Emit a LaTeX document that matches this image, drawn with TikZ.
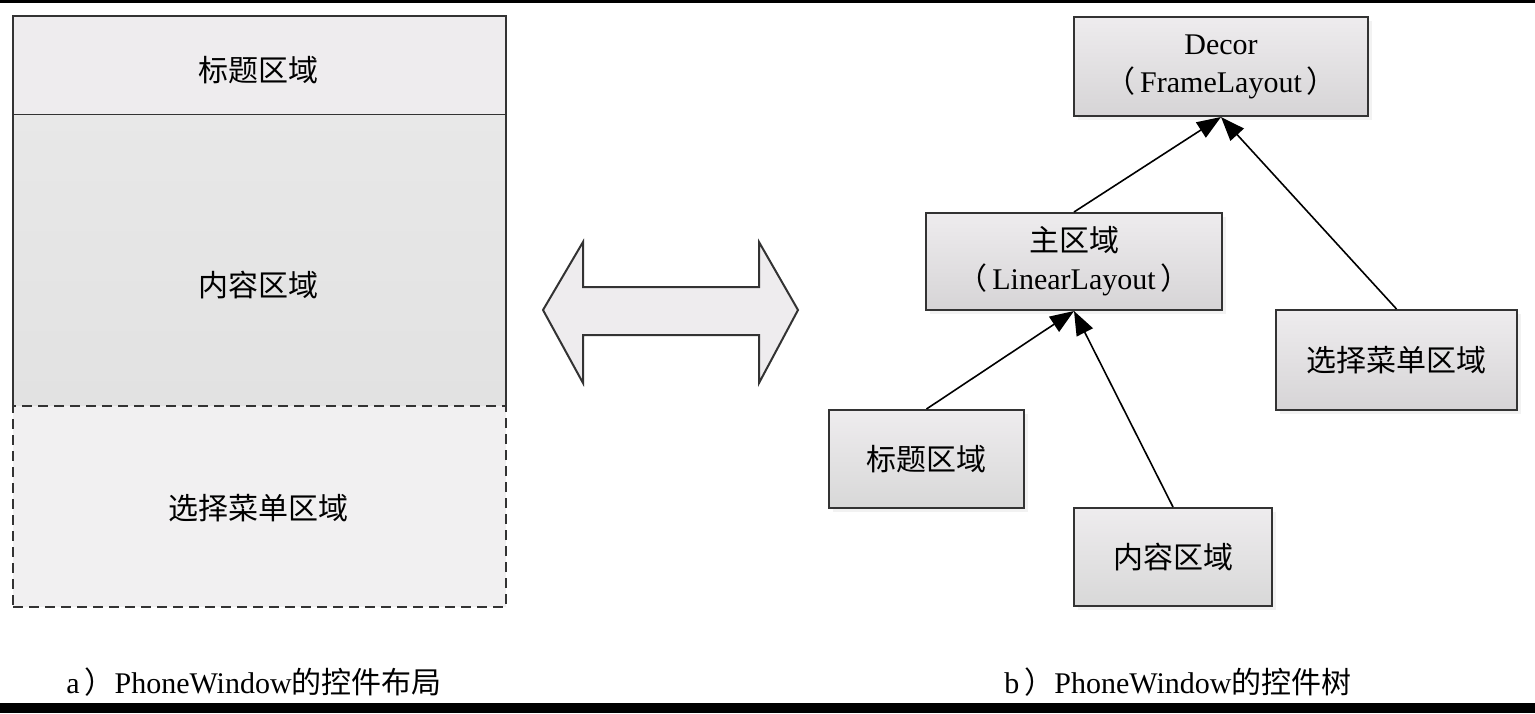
\documentclass[tikz,border=0pt]{standalone}
\usepackage{fontspec}
\setmainfont{Liberation Serif}
\newfontfamily\zhfont{Noto Sans CJK SC}
\usepackage{tikz}
\usetikzlibrary{arrows.meta,shapes,positioning,shadows}

\definecolor{framegray}{HTML}{333333}
\definecolor{paleFill}{HTML}{EEECEE}
\definecolor{midFill}{HTML}{E2E2E2}
\definecolor{lowFill}{HTML}{D8D8D8}

\begin{document}
\begin{tikzpicture}[x=0.5pt, y=-0.5pt]
% STYLES
\tikzset{
    txt/.style={font=\fontsize{15pt}{19pt}\selectfont, align=center},
    panel/.style={rectangle, txt, outer sep=0pt, inner sep=0pt,
    minimum width=246.5pt, draw=framegray, line width=1pt},
    treebox/.style={rectangle, txt, draw=framegray, line width=1pt,
    inner sep=2pt, top color=paleFill, bottom color=paleFill!90!black!100,
    drop shadow={shadow xshift=2pt, shadow yshift=-2pt, fill=black!10}},
    leafbox/.style={treebox, top color=paleFill, bottom color=lowFill},
    link/.style={-{Triangle[length=12pt,width=9pt]}, line width=0.8pt, black},
    swaparrow/.style={draw=framegray, line width=1pt, fill=paleFill, line join=miter}
}

\useasboundingbox (0,0) rectangle (1535,713);
\fill[black] (0,0) rectangle (1535,3);
\fill[black] (0,703) rectangle (1535,713);

% a) layout of the window
\node[panel, fill=paleFill, minimum height=49.5pt] (leftTitle) at (259.5,65.5) {};
\node[panel, draw=none, below=0pt of leftTitle, minimum height=145.5pt,
      top color=midFill!80!white, bottom color=midFill] (leftContent) {};
\draw[framegray, line width=1pt] (leftContent.south west) -- (leftContent.north west)
      (leftContent.north east) -- (leftContent.south east);
\node[panel, dashed, dash pattern=on 5pt off 3pt, fill=paleFill!80!white, below=0pt of leftContent,
      minimum height=100.5pt] (leftMenu) {};
\node[txt] (leftTitleText) at (258,70) {\zhfont 标题区域};
\node[txt] (leftContentText) at (258,285) {\zhfont 内容区域};
\node[txt] (leftMenuText) at (258,508) {\zhfont 选择菜单区域};

% the double arrow between both parts
\draw[swaparrow] (543,310) -- (583,242) -- (583,287) -- (759,287) -- (759,242) -- (798,310)
      -- (759,383) -- (759,335) -- (583,335) -- (583,383) -- cycle;

% b) tree of the window
\node[treebox, minimum width=147pt, minimum height=49.5pt] (decor) at (1221,66.5)
      {Decor\\{\zhfont （}\,FrameLayout\,{\zhfont ）}};
\node[treebox, minimum width=148pt, minimum height=48.5pt] (mainArea) at (1074,261.5)
      {\zhfont 主区域\\{\zhfont （}\,LinearLayout\,{\zhfont ）}};
\node[leafbox, minimum width=97.5pt, minimum height=49pt] (titleArea) at (926.5,459) {\zhfont 标题区域};
\node[leafbox, minimum width=99pt, minimum height=49pt] (contentArea) at (1173,557) {\zhfont 内容区域};
\node[treebox, minimum width=120.5pt, minimum height=50pt] (menuArea) at (1396.5,360) {\zhfont 选择菜单区域};

% Draw the links between
\path[link]
   (mainArea.north) edge (decor.south)
   (menuArea.north) edge (decor.south)
   (titleArea.north) edge (mainArea.south)
   (contentArea.north) edge (mainArea.south);

% captions
\node[txt] (capLayout) at (254,682) {a\,{\zhfont ）}PhoneWindow{\zhfont 的控件布局}};
\node[txt] (capTree) at (1178,682) {b\,{\zhfont ）}PhoneWindow{\zhfont 的控件树}};
\end{tikzpicture}
\end{document}
